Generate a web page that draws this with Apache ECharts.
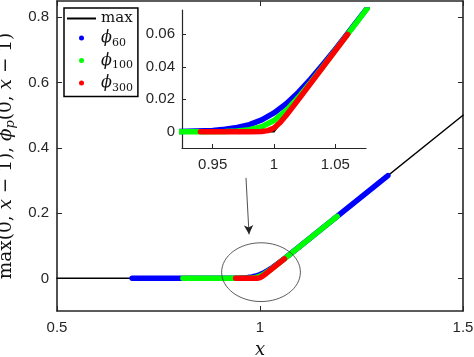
<!DOCTYPE html>
<html><head><meta charset="utf-8">
<script src="https://cdn.jsdelivr.net/npm/echarts@6/dist/echarts.min.js"></script>
<style>html,body{margin:0;padding:0;background:#fff}#c{width:474px;height:357px}</style>
</head><body><div id="c"></div>
<script>
// ---- data ----
const maxX = [0.5, 1, 1.5];
const maxY = [0, 0, 0.5];
const phi60X = [0.685, 0.85, 0.9, 0.93, 0.95, 0.96, 0.97, 0.98, 0.99, 1.0, 1.01, 1.02, 1.03, 1.04, 1.05, 1.06, 1.08, 1.1, 1.315];
const phi60Y = [0, 0, 0.0000, 0.0003, 0.0008, 0.0015, 0.0026, 0.0044, 0.0073, 0.0116, 0.0173, 0.0244, 0.0326, 0.0415, 0.0508, 0.0605, 0.0801, 0.1000, 0.315];
const phi100X = [0.81, 0.9, 0.94, 0.96, 0.97, 0.98, 0.99, 1.0, 1.01, 1.02, 1.03, 1.04, 1.05, 1.07, 1.19];
const phi100Y = [0, 0, 0.0000, 0.0002, 0.0005, 0.0013, 0.0031, 0.0069, 0.0131, 0.0213, 0.0305, 0.0402, 0.0501, 0.0700, 0.19];
const phi300X = [0.94, 0.98, 0.99, 0.995, 1.0, 1.005, 1.01, 1.015, 1.02, 1.03, 1.06];
const phi300Y = [0, 0, 0.0002, 0.0007, 0.0023, 0.0057, 0.0102, 0.0150, 0.0200, 0.0300, 0.06];
const mainXTicks = [0.5, 1, 1.5];
const mainYTicks = [0, 0.2, 0.4, 0.6, 0.8];
const insetXTicks = [0.95, 1, 1.05];
const insetYTicks = [0, 0.02, 0.04, 0.06];
// annotations (data coordinates of the main axes)
const arrowFrom = [0.9655, 0.308];
const arrowTo = [0.973, 0.135];
const ellipseCenter = [1.0025, 0.019];
const ellipseRadius = [0.097, 0.09];

function pairs(xs, ys) { return xs.map((x, i) => [x, ys[i]]); }

const chart = echarts.init(document.getElementById('c'), null, {renderer: 'canvas'});
const axisColor = '#262626';
const tickFont = {fontFamily: 'Liberation Sans, Arial, sans-serif', fontSize: 15, color: axisColor};

function xAx(gi, pos, min, max, ticks, showLabel, lw, tl) {
  return {type: 'value', gridIndex: gi, position: pos, min: min, max: max,
    axisLine: {show: true, onZero: false, lineStyle: {color: axisColor, width: lw}},
    axisTick: {show: true, inside: true, length: tl, customValues: ticks, lineStyle: {color: axisColor, width: 1}},
    axisLabel: {show: showLabel, customValues: ticks, margin: 9, ...tickFont},
    splitLine: {show: false}};
}
function yAx(gi, pos, min, max, ticks, showLabel, lw, tl, margin) {
  return {type: 'value', gridIndex: gi, position: pos, min: min, max: max,
    axisLine: {show: true, onZero: false, lineStyle: {color: axisColor, width: lw}},
    axisTick: {show: true, inside: true, length: tl, customValues: ticks, lineStyle: {color: axisColor, width: 1}},
    axisLabel: {show: showLabel, customValues: ticks, margin: margin, ...tickFont},
    splitLine: {show: false}};
}

const xAxes = [
  xAx(0, 'bottom', 0.5, 1.5, mainXTicks, true, 1.6, 5),
  xAx(0, 'top', 0.5, 1.5, mainXTicks, false, 1.6, 5),
  xAx(1, 'bottom', 0.925, 1.075, insetXTicks, true, 1.2, 4)
];
xAxes[0].name = 'x';
xAxes[0].nameLocation = 'middle';
xAxes[0].nameGap = 30;
xAxes[0].nameTextStyle = {fontFamily: 'DejaVu Serif', fontStyle: 'italic', fontSize: 18, color: '#111'};

const yAxes = [
  yAx(0, 'left', -0.1, 0.85, mainYTicks, true, 1.6, 5, 8),
  yAx(0, 'right', -0.1, 0.85, mainYTicks, false, 1.6, 5, 8),
  yAx(1, 'left', -0.01, 0.075, insetYTicks, true, 1.2, 4, 7)
];
yAxes[0].name = '{r|max(0, }{i|x}{r| − 1), }{i|ϕ}{s|p}{r|(0, }{i|x}{r| − 1)}';
yAxes[0].nameLocation = 'middle';
yAxes[0].nameRotate = 90;
yAxes[0].nameGap = 31;
yAxes[0].nameTextStyle = {color: '#111', rich: {
  r: {fontFamily: 'DejaVu Serif', fontSize: 18.5, lineHeight: 23, color: '#111'},
  i: {fontFamily: 'DejaVu Serif', fontStyle: 'italic', fontSize: 18.5, lineHeight: 23, color: '#111'},
  s: {fontFamily: 'DejaVu Serif', fontStyle: 'italic', fontSize: 13, lineHeight: 14, verticalAlign: 'bottom', color: '#111'}
}};

function mk(name, xs, ys, color, width, gi, extra) {
  return Object.assign({
    type: 'line', name: name, data: pairs(xs, ys),
    xAxisIndex: gi === 0 ? 0 : 2, yAxisIndex: gi === 0 ? 0 : 2,
    showSymbol: false, symbol: 'none', smooth: false, silent: true,
    lineStyle: {color: color, width: width, cap: 'round', join: 'round'},
    itemStyle: {color: color}
  }, extra || {});
}

const series = [
  mk('max', maxX, maxY, '#000', 1.5, 0, {
    markLine: {silent: true, symbol: ['none', 'arrow'], symbolSize: [7, 9], label: {show: false},
      lineStyle: {color: '#222', width: 0.8, type: 'solid'},
      data: [[{coord: arrowFrom}, {coord: arrowTo}]]}
  }),
  mk('phi60', phi60X, phi60Y, '#0000ff', 5.5, 0),
  mk('phi100', phi100X, phi100Y, '#00ff00', 5.5, 0),
  mk('phi300', phi300X, phi300Y, '#ff0000', 5.5, 0),
  mk('max', maxX, maxY, '#000', 1.5, 1),
  mk('phi60', phi60X, phi60Y, '#0000ff', 5.5, 1),
  mk('phi100', phi100X, phi100Y, '#00ff00', 5.5, 1),
  mk('phi300', phi300X, phi300Y, '#ff0000', 5.5, 1)
];

const legendLabels = {max: '{r|max}', phi60: '{p|ϕ}{s|60}', phi100: '{p|ϕ}{s|100}', phi300: '{p|ϕ}{s|300}'};

chart.setOption({
  animation: false,
  backgroundColor: '#fff',
  grid: [
    {left: 57, right: 11, top: 1, bottom: 46, outerBoundsMode: 'none', containLabel: false},
    {left: 182, right: 108, top: 10, bottom: 209, outerBoundsMode: 'none', containLabel: false}
  ],
  xAxis: xAxes,
  yAxis: yAxes,
  legend: {
    orient: 'vertical', left: 64, top: 8, itemWidth: 29, itemHeight: 5, itemGap: 4,
    padding: [3, 5, 3, 3], backgroundColor: '#fff', borderColor: '#000', borderWidth: 1.5,
    selectedMode: false, z: 20, symbolKeepAspect: true,
    formatter: n => legendLabels[n],
    textStyle: {rich: {
      r: {fontFamily: 'DejaVu Serif', fontSize: 15, lineHeight: 21, color: '#111'},
      p: {fontFamily: 'DejaVu Serif', fontStyle: 'italic', fontSize: 16, lineHeight: 21, color: '#111'},
      s: {fontFamily: 'DejaVu Serif', fontSize: 11, lineHeight: 13, verticalAlign: 'bottom', color: '#111'}
    }},
    data: [
      {name: 'max', icon: 'path://M0,0H29V2H0Z', itemStyle: {color: '#000'}},
      {name: 'phi60', icon: 'circle'},
      {name: 'phi100', icon: 'circle'},
      {name: 'phi300', icon: 'circle'}
    ]
  },
  series: series
});

const c = chart.convertToPixel({xAxisIndex: 0, yAxisIndex: 0}, ellipseCenter);
const e = chart.convertToPixel({xAxisIndex: 0, yAxisIndex: 0}, [ellipseCenter[0] + ellipseRadius[0], ellipseCenter[1] + ellipseRadius[1]]);
chart.setOption({graphic: [{type: 'ellipse', silent: true, z: 10,
  shape: {cx: c[0], cy: c[1], rx: e[0] - c[0], ry: c[1] - e[1]},
  style: {fill: null, stroke: '#333', lineWidth: 0.8}}]});
</script></body></html>
